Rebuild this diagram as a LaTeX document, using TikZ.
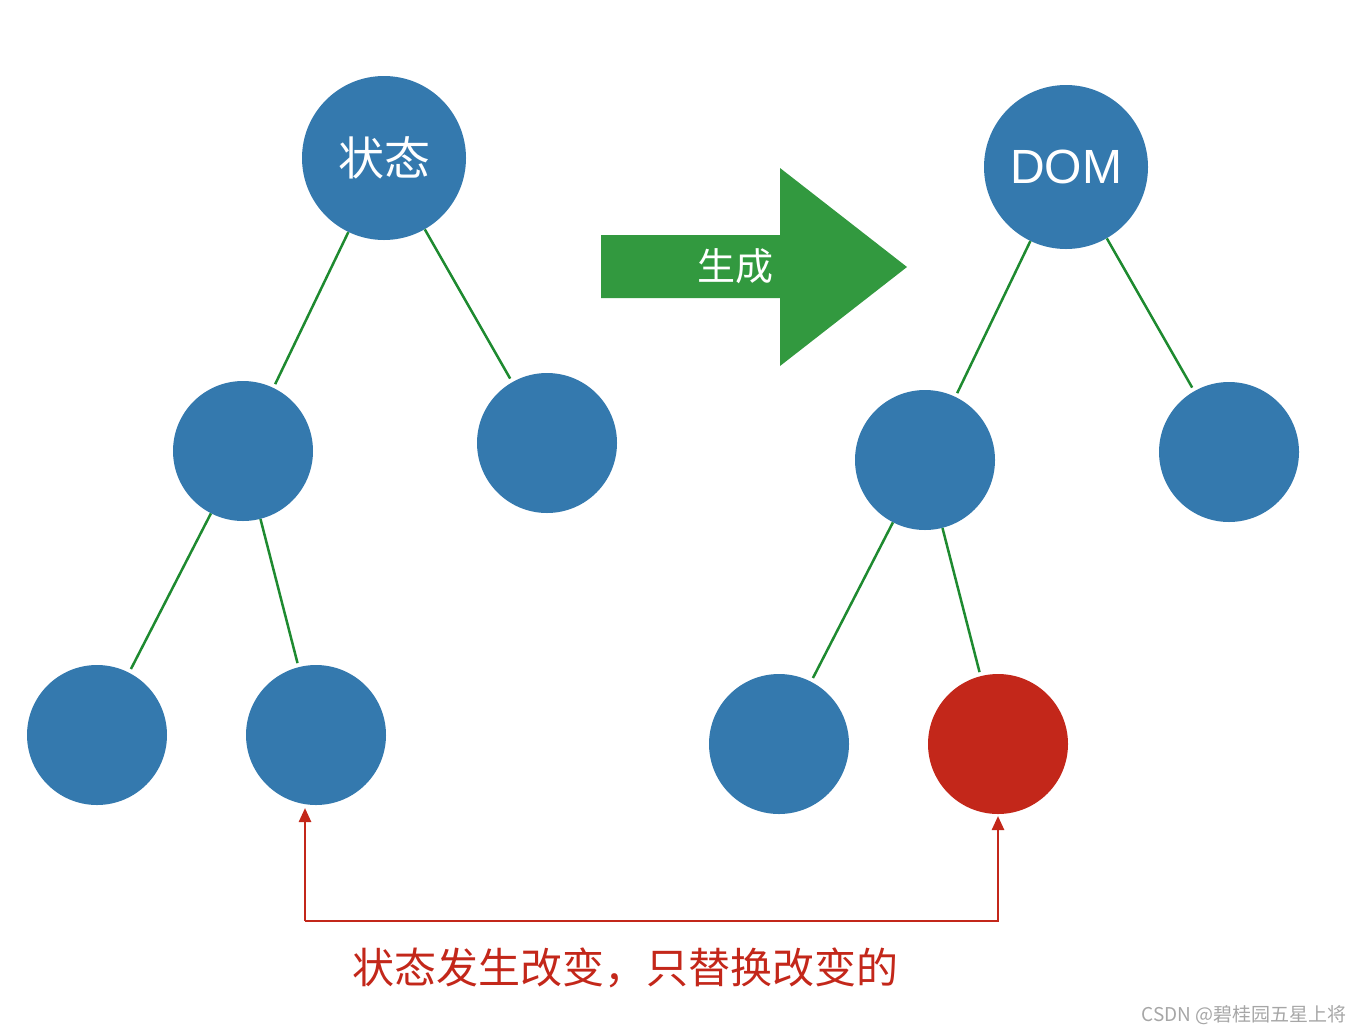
\documentclass[tikz,border=0pt]{standalone}
\usepackage{fontspec}
\setmainfont{Noto Sans CJK SC}
\usetikzlibrary{arrows.meta}
\definecolor{nblue}{HTML}{3479AE}
\definecolor{lgreen}{HTML}{1E8A30}
\definecolor{agreen}{HTML}{32993F}
\definecolor{cred}{HTML}{C3271A}
\begin{document}
\begin{tikzpicture}[x=1pt,y=-1pt,
  nd/.style={circle,fill=nblue,minimum size=140pt,inner sep=0pt,text=white},
  big/.style={nd,minimum size=164pt,font=\fontsize{46}{46}\selectfont},
  ed/.style={draw=lgreen,line width=2.5pt,shorten >=4pt},
  rl/.style={draw=cred,line width=2.5pt,-{Triangle[length=14pt,width=12pt]}}]
\useasboundingbox (0,0) rectangle (1364,1034);
\node[big] (s) at (384,158) {状态};
\node[nd] (l1) at (243,451) {};
\node[nd] (r1) at (547,443) {};
\node[nd] (l2) at (97,735) {};
\node[nd] (m2) at (316,735) {};
\node[big,font={\fontsize{48}{48}\fontspec{Liberation Sans}}] (d) at (1066,167) {DOM};
\node[nd] (dl1) at (925,460) {};
\node[nd] (dr1) at (1229,452) {};
\node[nd] (dl2) at (779,744) {};
\node[nd,fill=cred] (dm2) at (998,744) {};
\draw[ed] (s) -- (l1); \draw[ed] (s) -- (r1);
\draw[ed] (l1) -- (l2); \draw[ed] (l1) -- (m2);
\draw[ed] (d) -- (dl1); \draw[ed] (d) -- (dr1);
\draw[ed] (dl1) -- (dl2); \draw[ed] (dl1) -- (dm2);
\fill[agreen] (601,235) -- (780,235) -- (780,168) -- (907,267) -- (780,366) -- (780,298) -- (601,298) -- cycle;
\node[text=white,font=\fontsize{38}{38}\selectfont] (g) at (735,266) {生成};
\coordinate (c1) at (305,921);
\coordinate (c2) at (998,921);
\draw[rl] (c1) -- (305,808);
\draw[rl] (c1) -- (c2) -- (998,816);
\node[text=cred,font=\fontsize{42}{42}\selectfont] (t) at (625,968) {状态发生改变，只替换改变的};
\node[text=gray!70,font=\fontsize{19}{19}\selectfont,anchor=east] (w) at (1350,1015) {CSDN @碧桂园五星上将};
\end{tikzpicture}
\end{document}
